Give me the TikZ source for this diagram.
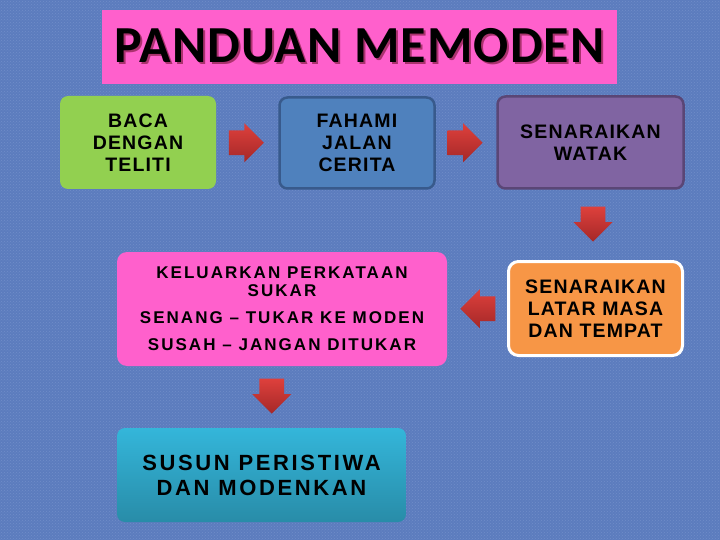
\documentclass[tikz,border=0pt]{standalone}
\usepackage{fontspec}
\setmainfont{Liberation Sans}
\newfontfamily\titlefont[LetterSpace=2]{Carlito}
\newfontfamily\boxfont[LetterSpace=6]{Liberation Sans}
\newfontfamily\widefont[LetterSpace=12]{Liberation Sans}
\usepackage{tikz}
\usetikzlibrary{shapes.arrows, positioning, calc, patterns}
\definecolor{denim}{RGB}{92,124,190}
\definecolor{weave}{RGB}{150,175,220}
\definecolor{hotpink}{RGB}{255,96,204}
\definecolor{titleshade}{RGB}{170,50,110}
\definecolor{limegreen}{RGB}{146,208,80}
\definecolor{steelblue}{RGB}{79,129,189}
\definecolor{steeledge}{RGB}{56,90,140}
\definecolor{lavender}{RGB}{128,100,162}
\definecolor{lavedge}{RGB}{90,70,118}
\definecolor{tangerine}{RGB}{247,150,70}
\definecolor{tealtop}{RGB}{52,182,218}
\definecolor{tealbot}{RGB}{40,140,168}
\definecolor{arrowtop}{RGB}{222,64,60}
\definecolor{arrowbot}{RGB}{165,40,40}
\newcommand{\shadowtext}[1]{\rlap{\kern2pt\raisebox{-2pt}{\textcolor{titleshade}{#1}}}#1}
\tikzset{
    block/.style={rectangle, rounded corners=8pt, align=center, inner sep=0pt, text=black,
        font=\boxfont\bfseries\fontsize{19.5}{22}\selectfont},
    bigblock/.style={block, font=\widefont\bfseries\fontsize{17}{18}\selectfont},
    blockarrow/.style={single arrow, draw=none, top color=arrowtop, bottom color=arrowbot,
        minimum height=35pt, minimum width=39pt, inner xsep=0pt, inner ysep=12pt,
        single arrow head extend=7pt}
}
\begin{document}
\begin{tikzpicture}[x=1pt, y=-1pt]
    \fill[denim] (0,0) rectangle (720,540);
    \fill[pattern=crosshatch dots, pattern color=weave, opacity=0.35] (0,0) rectangle (720,540);
    \useasboundingbox (0,0) rectangle (720,540);
    % title
    \node[rectangle, fill=hotpink, minimum width=515pt, minimum height=74pt, inner sep=0pt,
        font=\titlefont\bfseries\fontsize{52}{56}\selectfont] (title) at (359.5,47)
        {\shadowtext{PANDUAN MEMODEN}};
    % top row
    \node[block, fill=limegreen, minimum width=156pt, minimum height=93pt] (baca) at (138,142.5)
        {BACA\\DENGAN\\TELITI};
    \node[block, fill=steelblue, draw=steeledge, line width=2.5pt, minimum width=155pt, minimum height=91pt]
        (fahami) at (357,143) {FAHAMI\\JALAN\\CERITA};
    \node[block, fill=lavender, draw=lavedge, line width=2.5pt, minimum width=186pt, minimum height=92pt]
        (watak) at (590.5,142.5) {SENARAIKAN\\WATAK};
    % middle row
    \node[block, rounded corners=10pt, fill=tangerine, draw=white, line width=3pt,
        minimum width=174pt, minimum height=94pt] (latar) at (595.5,308.5)
        {SENARAIKAN\\LATAR MASA\\DAN TEMPAT};
    \node[bigblock, rounded corners=10pt, fill=hotpink, minimum width=330pt, minimum height=114pt]
        (sukar) at (282,309)
        {KELUARKAN PERKATAAN\\SUKAR\\[9pt]SENANG – TUKAR KE MODEN\\[9pt]SUSAH – JANGAN DITUKAR};
    % bottom
    \node[block, top color=tealtop, bottom color=tealbot, minimum width=289pt, minimum height=94pt,
        font=\widefont\bfseries\fontsize{22}{25}\selectfont] (susun) at (261.5,475)
        {SUSUN PERISTIWA\\DAN MODENKAN};
    % arrows
    \node[blockarrow] (a1) at ($(baca.east)!0.5!(fahami.west)+(-7,0)$) {};
    \node[blockarrow] (a2) at ($(fahami.east)!0.5!(watak.west)+(-7,0)$) {};
    \node[blockarrow, rotate=-90] (a3) at ($(watak.south)!0.5!(latar.north)+(0,-7)$) {};
    \node[blockarrow, rotate=180] (a4) at ($(latar.west)!0.5!(sukar.east)+(7,0)$) {};
    \node[blockarrow, rotate=-90] (a5) at ($(sukar.south)!0.5!(susun.north)+(0,-7)$) {};
\end{tikzpicture}
\end{document}
